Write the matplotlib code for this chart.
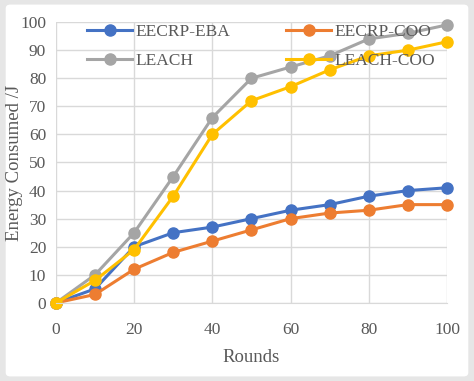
import numpy as np
import matplotlib
matplotlib.use("Agg")
import matplotlib.pyplot as plt
from matplotlib.patches import FancyBboxPatch

# Data.
rounds = [0, 10, 20, 30, 40, 50, 60, 70, 80, 90, 100]
eecrp_eba = [0, 5, 20, 25, 27, 30, 33, 35, 38, 40, 41]
eecrp_coo = [0, 3, 12, 18, 22, 26, 30, 32, 33, 35, 35]
leach = [0, 10, 25, 45, 66, 80, 84, 88, 94, 96, 99]
leach_coo = [0, 8, 19, 38, 60, 72, 77, 83, 88, 90, 93]

series_names = ["EECRP-EBA", "EECRP-COO", "LEACH", "LEACH-COO"]
colors = ["#4472C4", "#ED7D31", "#A5A5A5", "#FFC000"]

plt.rcParams["font.family"] = ["Liberation Serif", "DejaVu Serif"]

fig = plt.figure(figsize=(4.74, 3.81), dpi=100)
fig.patch.set_facecolor("#e6e6e6")
fig.patches.append(FancyBboxPatch((0.012, 0.012), 0.976, 0.976,
    boxstyle="round,pad=0,rounding_size=0.01", transform=fig.transFigure,
    facecolor="white", edgecolor="none", zorder=-1))

ax = fig.add_axes([0.118, 0.205, 0.825, 0.737])
ax.set_facecolor("white")

handles = []
for values, name, color in zip([eecrp_eba, eecrp_coo, leach, leach_coo],
        series_names, colors):
    line, = ax.plot(rounds, values, color=color, linewidth=2.2, marker="o",
        markersize=8, label=name, clip_on=False)
    handles.append(line)

ax.set_xlim(0, 100)
ax.set_ylim(0, 100)
ax.set_xticks(np.arange(0, 101, 20))
ax.set_yticks(np.arange(0, 101, 10))
ax.grid(True, color="#d9d9d9", linewidth=1.0)
ax.set_axisbelow(True)
for side in ["top", "right", "left"]:
    ax.spines[side].set_visible(False)
ax.spines["bottom"].set_color("#d9d9d9")
ax.tick_params(length=0, labelsize=12.5, colors="#595959")
ax.tick_params(axis="x", pad=14)
ax.tick_params(axis="y", pad=7)

ax.set_xlabel("Rounds", fontsize=13.5, color="#595959", labelpad=8)
ax.set_ylabel("Energy Consumed /J", fontsize=13.5, color="#595959")
ax.yaxis.set_label_coords(-0.085, 0.5)

# Row-major legend order like the reference.
order = [0, 2, 1, 3]
ax.legend([handles[i] for i in order], [series_names[i] for i in order],
    ncol=2, frameon=False, loc="upper center",
    bbox_to_anchor=(0.525, 1.05), fontsize=12.5, labelcolor="#595959",
    handlelength=2.6, columnspacing=3.2, handletextpad=0.2,
    labelspacing=0.75)

fig.savefig("out.png", dpi=100, facecolor=fig.get_facecolor())
